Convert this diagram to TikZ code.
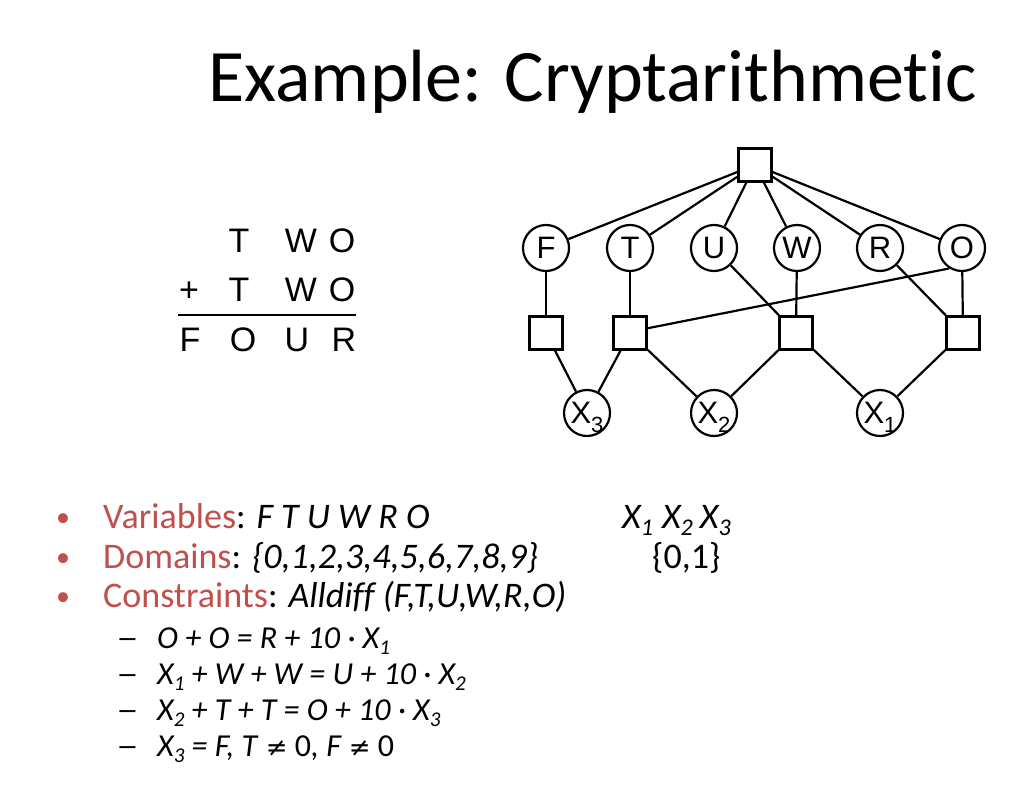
\documentclass[tikz,border=0pt]{standalone}
\usepackage{fontspec}
\setmainfont[Ligatures=NoCommon]{Carlito}
\newfontfamily\helv{Liberation Sans}
\newfontfamily\dejavu{DejaVu Sans}
\definecolor{accent}{RGB}{192,80,77}
\newcommand\sbb[1]{\raisebox{-0.2em}{\fontsize{24}{24}\selectfont #1}}
\newcommand\sbs[1]{\raisebox{-0.2em}{\fontsize{21}{21}\selectfont #1}}
\newcommand\csub[1]{\smash{\raisebox{-9pt}{\fontsize{22}{22}\selectfont #1}}}
\newcommand\neqc{{\dejavu\fontsize{26}{26}\selectfont ≠}}
\begin{document}
\begin{tikzpicture}[x=1pt,y=-1pt,
  var/.style={circle,draw,line width=2.2pt,minimum size=46pt,inner sep=0pt,font=\helv\fontsize{31}{31}\selectfont},
  con/.style={rectangle,draw,line width=2.2pt,minimum size=33pt,inner sep=0pt},
  link/.style={line width=2.2pt},
  puz/.style={font=\helv\fontsize{34}{34}\selectfont,anchor=base,inner sep=0pt},
  txt/.style={anchor=base west,inner sep=0pt,font=\fontsize{36}{36}\selectfont},
  subtxt/.style={anchor=base west,inner sep=0pt,font=\fontsize{32}{32}\selectfont}]
\fill[white] (0,0) rectangle (1024,786);
\useasboundingbox (0,0) rectangle (1024,786);

% title
\node[anchor=base west,inner sep=0pt,font=\fontsize{74}{74}\selectfont] (title) at (208.5,102) {Example: Cryptarithmetic};

% puzzle
\node[puz] (p1) at (239,252) {T};
\node[puz] (p2) at (301,252) {W};
\node[puz] (p3) at (342,252) {O};
\node[puz] (p4) at (189,301) {+};
\node[puz] (p5) at (239,301) {T};
\node[puz] (p6) at (301,301) {W};
\node[puz] (p7) at (342,301) {O};
\coordinate (rl) at (178,315);
\coordinate (rr) at (356,315);
\draw[line width=2.6pt] (rl) -- (rr);
\node[puz] (p8) at (190,351) {F};
\node[puz] (p9) at (243,351) {O};
\node[puz] (p10) at (297,351) {U};
\node[puz] (p11) at (344,351) {R};

% graph
\node[con] (top) at (755,165) {};
\node[var] (F) at (546,248) {F};
\node[var] (T) at (630,248) {T};
\node[var] (U) at (714,248) {U};
\node[var] (W) at (797,248) {W};
\node[var] (R) at (880,248) {R};
\node[var] (O) at (962,248) {O};
\node[con] (s1) at (546,333) {};
\node[con] (s2) at (630,333) {};
\node[con] (s3) at (796,333) {};
\node[con] (s4) at (963,333) {};
\node[var] (X3) at (587,413) {X\csub{3}};
\node[var] (X2) at (714,413) {X\csub{2}};
\node[var] (X1) at (880,413) {X\csub{1}};
\foreach \v in {F,T,U,W,R,O} \draw[link] (top) -- (\v);
\draw[link] (F) -- (s1);
\draw[link] (T) -- (s2);
\draw[link] (W) -- (s3);
\draw[link] (O) -- (s4);
\draw[link] (U) -- (s3);
\draw[link] (R) -- (s4);
\draw[link] (O.238) -- (s2.15);
\draw[link] (s1) -- (X3);
\draw[link] (s2) -- (X3);
\draw[link] (s2) -- (X2);
\draw[link] (s3) -- (X2);
\draw[link] (s3) -- (X1);
\draw[link] (s4) -- (X1);

% bullets
\node[txt,text=accent,font=\fontsize{28}{28}\selectfont] (b1) at (56,526) {•};
\node[txt,text=accent,font=\fontsize{28}{28}\selectfont] (b2) at (56,566) {•};
\node[txt,text=accent,font=\fontsize{28}{28}\selectfont] (b3) at (56,605) {•};
\node[txt] (l1) at (103,528) {\textcolor{accent}{Variables}: \textit{F T U W R O}};
\node[txt] (r1) at (622,528) {\textit{X\sbb{1}\hspace{9pt}X\sbb{2}\hspace{7pt}X\sbb{3}}};
\node[txt] (l2) at (103,568) {\textcolor{accent}{Domains}: \textit{\{0,1,2,3,4,5,6,7,8,9\}}};
\node[txt] (r2) at (652,568) {\{0,1\}};
\node[txt] (l3) at (103,607) {\textcolor{accent}{Constraints}: \textit{Alldiff (F,T,U,W,R,O)}};

% sub items
\node[subtxt,xscale=1.4] (d1) at (116,648) {–};
\node[subtxt,xscale=1.4] (d2) at (116,684) {–};
\node[subtxt,xscale=1.4] (d3) at (116,720) {–};
\node[subtxt,xscale=1.4] (d4) at (116,756) {–};
\node[subtxt] (c1) at (157,648) {\textit{O + O = R + 10 · X\sbs{1}}};
\node[subtxt] (c2) at (157,684) {\textit{X\sbs{1} + W + W = U + 10 · X\sbs{2}}};
\node[subtxt] (c3) at (157,720) {\textit{X\sbs{2} + T + T = O + 10 · X\sbs{3}}};
\node[subtxt] (c4) at (157,756) {\textit{X\sbs{3} = F, T} \neqc{} 0\textit{, F} \neqc{} 0};
\end{tikzpicture}
\end{document}
